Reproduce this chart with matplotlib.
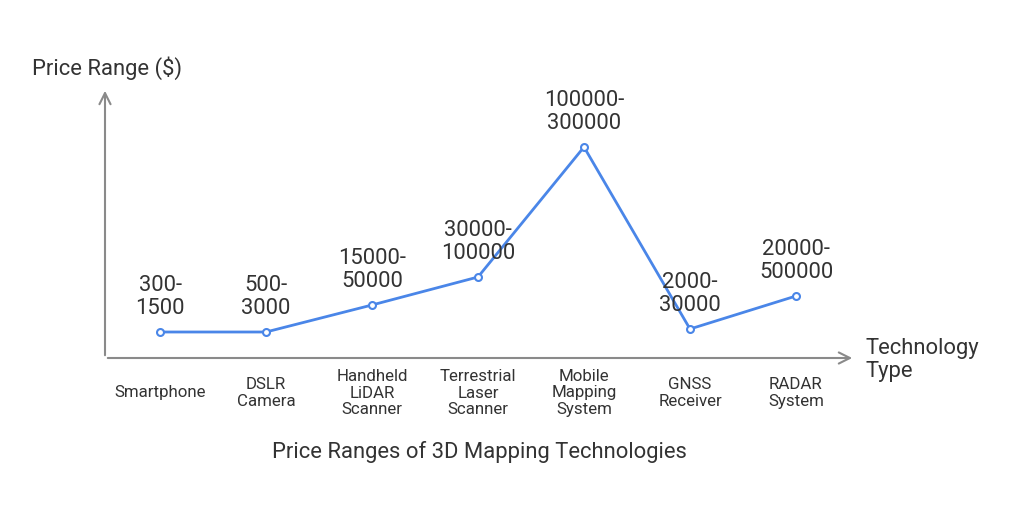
import matplotlib
matplotlib.use("Agg")
import matplotlib.pyplot as plt

categories = ["Smartphone", "DSLR\nCamera", "Handheld\nLiDAR\nScanner", "Terrestrial\nLaser\nScanner",
              "Mobile\nMapping\nSystem", "GNSS\nReceiver", "RADAR\nSystem"]
price_labels = ["300-\n1500", "500-\n3000", "15000-\n50000", "30000-\n100000",
                "100000-\n300000", "2000-\n30000", "20000-\n500000"]
# relative plotted height (as drawn in the reference)
values = [26, 26, 53, 81, 211, 29, 62]

plt.rcParams['font.family'] = ['Roboto', 'DejaVu Sans']
W, H = 1024, 520
fig = plt.figure(figsize=(W/100, H/100), dpi=100)
ax = fig.add_axes([105/W, (H-358)/H, 750/W, 270/H])
ax.set_xlim(-55/106, 695/106)
ax.set_ylim(0, 270)
ax.axis('off')

x = list(range(len(categories)))
col = '#4a86e8'
ax.plot(x, values, color=col, lw=2, marker='o', ms=5, mfc='white', mec=col, mew=1.5, clip_on=False, zorder=3)
for xi, v, lab in zip(x, values, price_labels):
    ax.text(xi, v + 13, lab, ha='center', va='bottom', fontsize=15.8, color='#333333', linespacing=1.1)
for xi, c in zip(x, categories):
    ax.text(xi, -35, c, ha='center', va='center', fontsize=12.2, color='#333333', linespacing=1.15)

gray = '#8a8a8a'
ax.annotate('', xy=(1.0, 0), xytext=(0, 0), xycoords='axes fraction',
            arrowprops=dict(arrowstyle='->,head_width=0.4,head_length=0.8', color=gray, lw=1.5))
ax.annotate('', xy=(0, 1.0), xytext=(0, 0), xycoords='axes fraction',
            arrowprops=dict(arrowstyle='->,head_width=0.4,head_length=0.8', color=gray, lw=1.5))

fig.text(32/W, 1-68/H, "Price Range ($)", fontsize=15.8, color='#333333', va='center', ha='left')
fig.text(866/W, 1-360/H, "Technology\nType", fontsize=15.8, color='#333333', va='center', ha='left', linespacing=1.1)
fig.text(479/W, 1-452/H, "Price Ranges of 3D Mapping Technologies", fontsize=15.8, color='#333333', va='center', ha='center')

fig.savefig('out.png', dpi=100, facecolor='white')
